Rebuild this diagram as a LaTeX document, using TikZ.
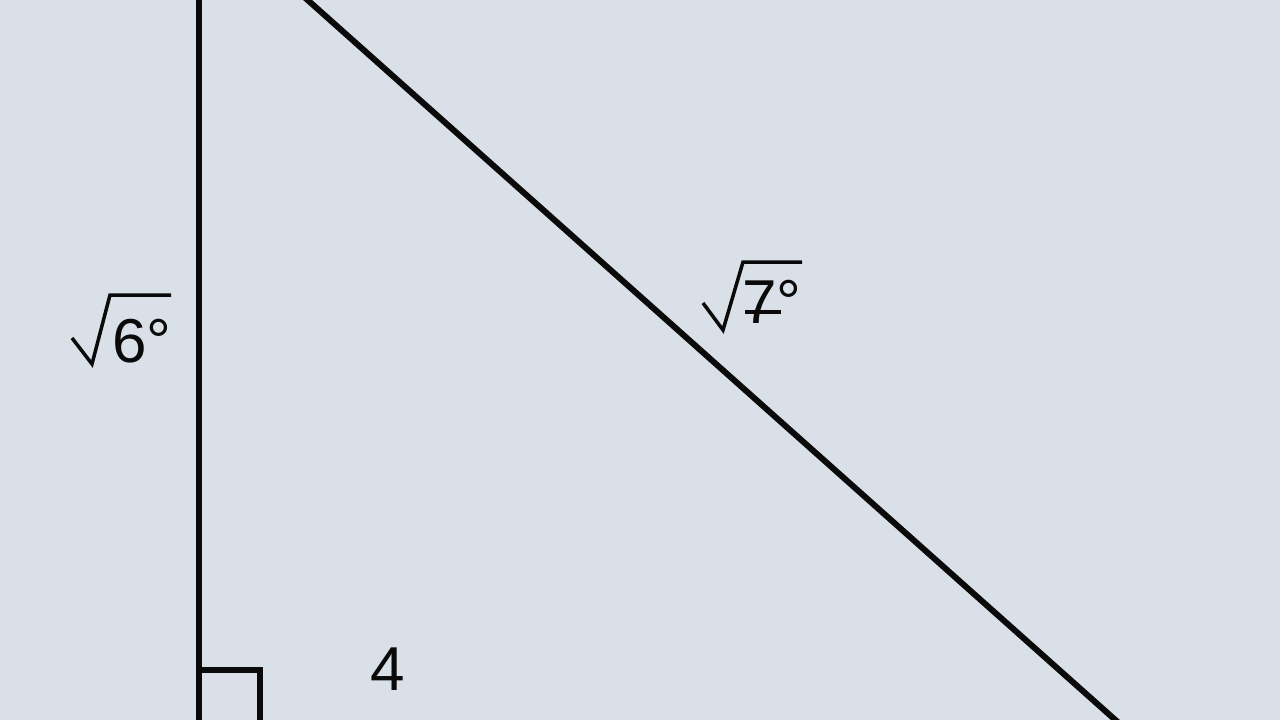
\documentclass[tikz,border=0pt]{standalone}
\usepackage{fontspec}
\setmainfont{Liberation Sans}
\definecolor{bg}{RGB}{217,224,232}
\definecolor{ink}{RGB}{10,10,10}
\tikzset{
  edge/.style={draw=ink,line width=6pt},
  rad/.style={draw=ink,line width=3.5pt,line join=miter},
  lbl/.style={inner sep=0pt,outer sep=0pt,text=ink,font=\fontsize{62}{64}\selectfont}
}
\begin{document}
\begin{tikzpicture}[x=1pt,y=-1pt]
\fill[bg] (0,0) rectangle (1280,720);
\useasboundingbox (0,0) rectangle (1280,720);
% vertices
\coordinate (top) at (199,-5);
\coordinate (bot) at (199,725);
\coordinate (htop) at (302,-5);
\coordinate (hbot) at (1121,725);
\coordinate (bx1) at (199,670);
\coordinate (bx2) at (260,670);
\coordinate (bx3) at (260,725);
% sides
\draw[edge] (top) -- (bot);
\draw[edge] (htop) -- (hbot);
\draw[edge,line width=5.5pt] (bx1) -- (bx2) -- (bx3);
% label sqrt 6
\coordinate (r6a) at (72,338);
\coordinate (r6b) at (92,364);
\coordinate (r6c) at (110,295);
\coordinate (r6d) at (171,295);
\draw[rad] (r6a) -- (r6b) -- (r6c) -- (r6d);
\node[lbl,anchor=base west] (six) at (112,362) {6°};
% label sqrt 7
\coordinate (r7a) at (703,303);
\coordinate (r7b) at (723,330);
\coordinate (r7c) at (743,262);
\coordinate (r7d) at (802,262);
\draw[rad] (r7a) -- (r7b) -- (r7c) -- (r7d);
\node[lbl,anchor=base west] (seven) at (742,323) {7°};
\coordinate (bar1) at (745,312);
\coordinate (bar2) at (781,312);
\draw[rad] (bar1) -- (bar2);
% label 4
\node[lbl] (four) at (388,669) {4};
\end{tikzpicture}
\end{document}
